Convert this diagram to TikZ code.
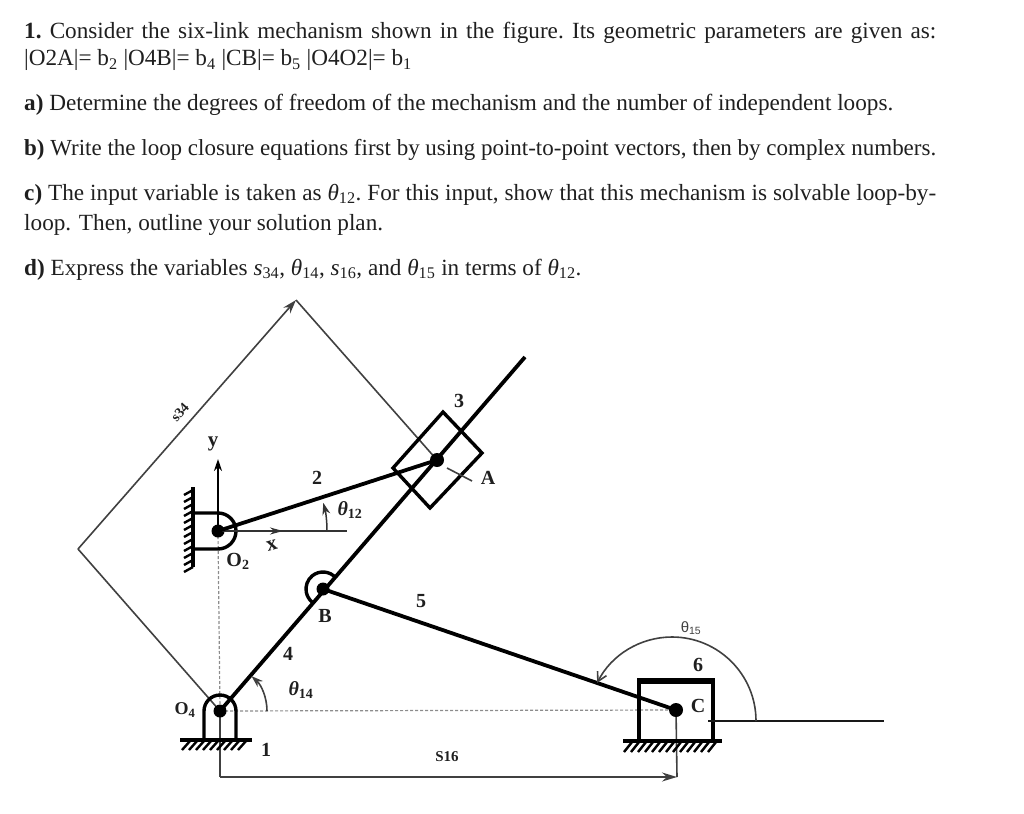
\documentclass[tikz,border=0pt]{standalone}
\usepackage{fontspec}
\setmainfont{Liberation Serif}
\newfontfamily\thetafont{Liberation Sans}
\usetikzlibrary{arrows.meta,positioning}
\definecolor{inkc}{gray}{.12}
\tikzset{
  txt/.style={anchor=base west,inner sep=0pt,text=inkc,font=\fontsize{23.2}{27}\selectfont},
  lab/.style={inner sep=0pt,text=inkc,font=\fontsize{20}{23}\selectfont\bfseries},
  link/.style={line width=3.8pt,draw=black},
  wallln/.style={line width=3.4pt,draw=black},
  thinln/.style={line width=1.6pt,draw=black!75},
  hiddenln/.style={line width=1.2pt,draw=black!45,densely dashed},
  pin/.style={fill=black},
  hatchln/.style={line width=2.4pt,draw=black}
}
\newcommand{\ang}[1]{\textit{θ}\textsubscript{#1}}
\newcommand{\fullline}[1]{\hbox to 912pt{\frenchspacing #1}}
\begin{document}
\begin{tikzpicture}[x=1pt,y=-1pt]
    \useasboundingbox (0,0) rectangle (1024,813);

    % text of the exercise
    \node[txt] (t1) at (24,39) {\fullline{\textbf{1.} Consider the six-link mechanism shown in the figure. Its geometric parameters are given as:}};
    \node[txt] (t2) at (24,66) {|O2A|= b\textsubscript{2} |O4B|= b\textsubscript{4} |CB|= b\textsubscript{5} |O4O2|= b\textsubscript{1}};
    \node[txt] (t3) at (24,111) {\textbf{a)} Determine the degrees of freedom of the mechanism and the number of independent loops.};
    \node[txt] (t4) at (24,156) {\resizebox{912pt}{!}{\textbf{b)} Write the loop closure equations first by using point-to-point vectors, then by complex numbers.}};
    \node[txt] (t5) at (24,200) {\fullline{\textbf{c)} The input variable is taken as \ang{12}. For this input, show that this mechanism is solvable loop-by-}};
    \node[txt] (t6) at (24,230) {loop. Then, outline your solution plan.};
    \node[txt] (t7) at (24,275) {\textbf{d)} Express the variables \textit{s}\textsubscript{34}, \ang{14}, \textit{s}\textsubscript{16}, and \ang{15} in terms of \ang{12}.};

    % joints
    \coordinate (O2) at (218,531);
    \coordinate (O4) at (220,711);
    \coordinate (B) at (323,589);
    \coordinate (A) at (437,460);
    \coordinate (C) at (676,710);
    \coordinate (rodend) at (525,357);
    \coordinate (apex) at (296,300);
    \coordinate (corner) at (78,549);
    \coordinate (refend) at (884,721);
    \coordinate (xend) at (347,531);

    % hidden lines
    \draw[hiddenln] (O2) -- (O4);
    \draw[hiddenln] (O4) -- (C);

    % s34 dimension
    \draw[thinln] (apex) -- (A);
    \draw[thinln,-{Stealth[length=14pt,width=9pt]}] (corner) -- (apex);
    \draw[thinln] (corner) -- (O4);
    \node[lab,rotate=48,font=\fontsize{14}{16}\selectfont\bfseries] (s34) at (180,412) {s34};

    % s16 dimension
    \coordinate (s16l) at (220,777);
    \coordinate (s16r) at (677,777);
    \draw[thinln] (O4) -- (s16l);
    \draw[thinln,-{Stealth[length=15pt,width=9pt]}] (s16l) -- (s16r);
    \draw[thinln] (C) -- (s16r);
    \node[lab,font=\fontsize{15}{17}\selectfont\bfseries] (s16) at (447,757) {S16};

    % ground at O2
    \draw[wallln] (193,487) -- (193,567);
    \foreach \y in {490,497,...,567}
      \draw[hatchln] (193,\y) -- (184,\y+5);
    \draw[wallln] (193,513) -- (218,513) arc[start angle=90,end angle=-90,radius=18pt] -- (193,549);
    \fill[pin] (O2) circle[radius=6.5pt];

    % axes
    \draw[line width=2.2pt,-{Stealth[length=12pt,width=8pt]}] (O2) -- (218,459);
    \draw[line width=1.8pt,draw=black!80] (O2) -- (xend);
    \draw[line width=1.8pt,draw=black!80,-{Stealth[length=13pt,width=7pt]}] (O2) -- (283,531);
    \node[lab,font=\fontsize{21}{24}\selectfont\bfseries] (ylab) at (213,444) {y};
    \node[lab,rotate=15,font=\fontsize{21}{24}\selectfont\bfseries] (xlab) at (272,545) {x};
    \node[lab] (o2lab) at (238,561) {O\textsubscript{2}};

    % theta12
    \draw[line width=1.5pt,draw=black!80,-{Stealth[length=12pt,width=8pt]}] (327,531) arc[start angle=0,end angle=15,radius=109pt];
    \node[lab] (th12) at (350,510) {\ang{12}};

    % link 4 with the rod and slider 3
    \draw[link] (O4) -- (rodend);
    \draw[wallln] (443,412) -- (482,453) -- (430,508) -- (393,468) -- cycle;

    % link 2 and link 5
    \draw[link] (O2) -- (A);
    \draw[link] (B) -- (C);
    \fill[pin] (A) circle[radius=7pt];
    \draw[thinln] (447,468) -- (472,481);
    \node[lab] (alab) at (488,478) {A};
    \node[lab] (n3) at (459,401) {3};
    \node[lab] (n2) at (317,478) {2};
    \node[lab] (n5) at (421,601) {5};
    \node[lab] (n4) at (288,654) {4};

    % joint B
    \draw[wallln] (B) ++(40:17pt) arc[start angle=40,end angle=230,radius=17pt];
    \fill[pin] (B) circle[radius=6.5pt];
    \node[lab] (blab) at (325,616) {B};

    % ground at O4
    \draw[wallln] (204,740) -- (204,711) arc[start angle=180,end angle=0,radius=16pt] -- (236,740);
    \draw[wallln] (180,740) -- (252,740);
    \foreach \x in {190,197,...,252}
      \draw[hatchln] (\x,741) -- (\x-8,750);
    \fill[pin] (O4) circle[radius=6.5pt];
    \node[lab,font=\fontsize{18}{20}\selectfont\bfseries] (o4lab) at (185,710) {O\textsubscript{4}};
    \node[lab] (n1) at (266,750) {1};

    % theta14
    \draw[thinln,-{Stealth[length=12pt,width=8pt]}] (267,711) arc[start angle=0,end angle=48,radius=47pt];
    \node[lab] (th14) at (301,690) {\ang{14}};

    % slider 6 and its ground
    \draw[line width=3.6pt] (639,740) -- (639,681) -- (713,681) -- (713,740);
    \draw[line width=5.5pt] (637,681) -- (715,681);
    \draw[wallln] (623,741) -- (722,741);
    \foreach \x in {632,639,...,722}
      \draw[hatchln] (\x,742) -- (\x-8,752);
    \fill[pin] (C) circle[radius=7pt];
    \node[lab] (clab) at (698,706) {C};
    \node[lab] (n6) at (698,665) {6};

    % theta15
    \draw[line width=2pt,draw=black!90] (708,721) -- (refend);
    \coordinate (thstart) at (756,721);
    \draw[thinln,-{Straight Barb[length=9pt,width=10pt]}] (thstart) arc[start angle=0,end angle=153,radius=84pt];
    \node[inner sep=0pt,text=black!75,font=\fontsize{15}{17}\selectfont\thetafont] (th15) at (691,628) {θ\textsubscript{15}};
\end{tikzpicture}
\end{document}
